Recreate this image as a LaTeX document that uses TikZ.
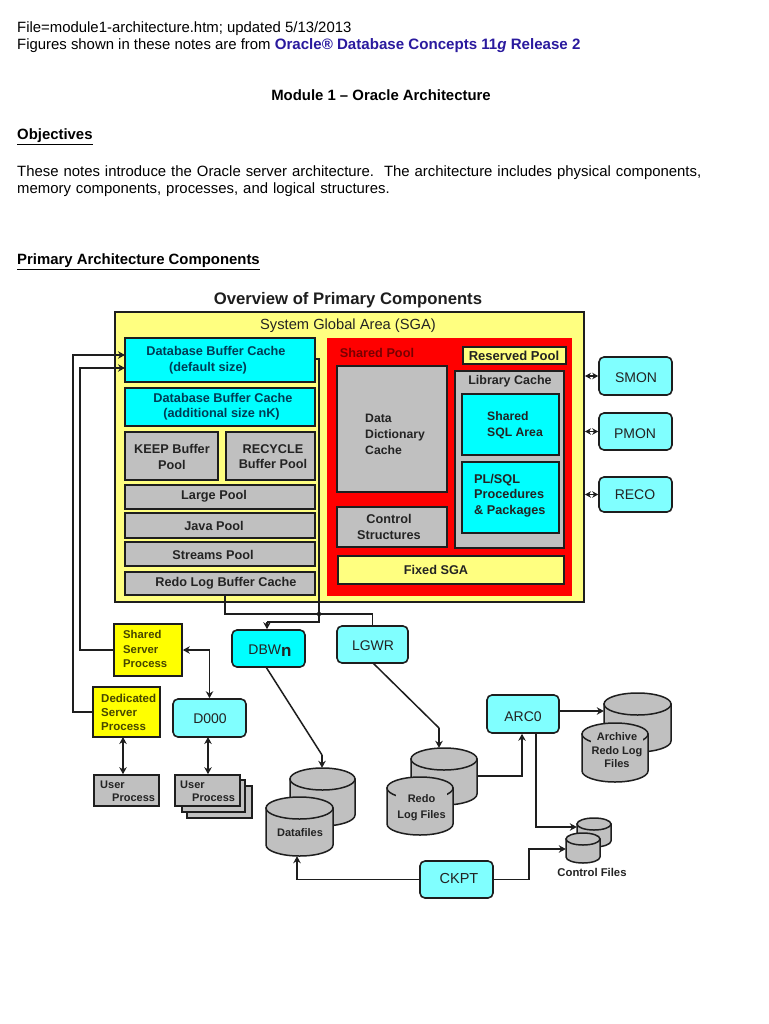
\documentclass[tikz,border=0pt]{standalone}
\usepackage{fontspec}
\setmainfont{Liberation Sans}
\usetikzlibrary{arrows.meta,calc}
\definecolor{lyel}{RGB}{255,255,128}
\definecolor{byel}{RGB}{255,255,0}
\definecolor{bcy}{RGB}{0,255,255}
\definecolor{lcy}{RGB}{128,255,255}
\definecolor{cgr}{RGB}{192,192,192}
\definecolor{edge}{RGB}{30,30,30}
\definecolor{blu}{RGB}{42,26,158}
\definecolor{tealtx}{RGB}{0,60,85}
\definecolor{oliv}{RGB}{70,70,0}
\definecolor{dred}{RGB}{120,0,0}
\definecolor{txt}{RGB}{35,35,35}
\newcommand\bx[6][]{%
  \pgfmathsetmacro\bxw{#5-#3}\pgfmathsetmacro\bxh{#6-#4}%
  \pgfmathsetmacro\bxx{(#3+#5)/2}\pgfmathsetmacro\bxy{(#4+#6)/2}%
  \node[boxs,minimum width=\bxw pt,minimum height=\bxh pt,#1] (#2) at (\bxx,\bxy) {};}
\newcommand\cyl[6]{%
  \pgfmathsetmacro\cw{#4-#2}\pgfmathsetmacro\ch{#5-#3}%
  \pgfmathsetmacro\cx{(#2+#4)/2}\pgfmathsetmacro\cy{(#3+#5)/2}%
  \pgfmathsetmacro\rx{\cw/2}\pgfmathsetmacro\yt{#3+#6}\pgfmathsetmacro\yb{#5-#6}%
  \pgfmathsetmacro\ka{\yb+0.55*#6}\pgfmathsetmacro\kb{\cx-0.55*\rx}\pgfmathsetmacro\kc{\cx+0.55*\rx}%
  \draw[cyls] (#2,\yt) -- (#2,\yb) .. controls (#2,\ka) and (\kb,#5) .. (\cx,#5)
     .. controls (\kc,#5) and (#4,\ka) .. (#4,\yb) -- (#4,\yt) -- cycle;
  \draw[cyls] (\cx,\yt) ellipse [x radius=\rx pt,y radius=#6 pt];
  \node[inner sep=0,minimum width=\cw pt,minimum height=\ch pt] (#1) at (\cx,\cy) {};}
\newcommand\dbwn{DBW\raisebox{-2pt}{\fontsize{17}{17}\selectfont\bfseries n}}
\begin{document}
\begin{tikzpicture}[x=1pt,y=-1pt,
  boxs/.style={draw=edge,line width=1.6pt,fill=cgr,inner sep=0pt},
  rbox/.style={boxs,rounded corners=5pt},
  cyls/.style={draw=edge,line width=1.5pt,fill=cgr},
  lbl/.style={inner sep=0pt,align=center,text=txt,font=\fontsize{12.7}{15.5}\selectfont\bfseries},
  lleft/.style={lbl,align=left,anchor=west},
  plain/.style={inner sep=0pt,anchor=west,align=left,text=black,font=\fontsize{14.9}{17}\selectfont},
  head/.style={plain,font=\fontsize{14.9}{17}\selectfont\bfseries},
  proc/.style={inner sep=0pt,text=txt,font=\fontsize{14}{16}\selectfont},
  conn/.style={draw=edge,line width=1.5pt},
  arr/.style={conn,-{Stealth[length=7pt,width=7.5pt]}},
  darr/.style={conn,{Stealth[length=7pt,width=7.5pt]}-{Stealth[length=7pt,width=7.5pt]}},
  sarr/.style={conn,line width=1.2pt,{Stealth[length=6pt,width=6.5pt]}-{Stealth[length=6pt,width=6.5pt]}}]
\useasboundingbox (0,0) rectangle (768,1024);
\fill[white] (0,0) rectangle (768,1024);
% page text
\node[plain] (t1) at (17,28.5) {File=module1-architecture.htm; updated 5/13/2013};
\node[plain] (t2) at (17,46) {Figures shown in these notes are from \textcolor{blu}{\fontsize{15.1}{17}\selectfont\bfseries Oracle® Database Concepts 11\textit{g} Release 2}};
\node[head,anchor=center] (t3) at (381,95) {Module 1 – Oracle Architecture};
\node[head] (t4) at (17,137) {\underline{Objectives}};
\node[plain,text width=740pt] (t5) at (17,181.5) {These notes introduce the Oracle server architecture.\ \ The architecture includes physical components,\\memory components, processes, and logical structures.};
\node[head] (t6) at (17,262) {\underline{Primary Architecture Components}};
% title
\node[inner sep=0pt,text=edge,font=\fontsize{16.7}{18}\selectfont\bfseries] (title) at (348,300.5) {Overview of Primary Components};
% SGA
\bx[fill=lyel,line width=2pt]{sga}{115}{312}{584}{602}
\node[inner sep=0pt,text=txt,font=\fontsize{14.7}{16}\selectfont] (sgat) at (348,326) {System Global Area (SGA)};
\bx[fill=bcy]{dbc}{125}{338}{315}{382}
\bx[fill=bcy]{dbn}{125}{388}{315}{426}
\bx{keep}{125}{432}{218}{480}
\bx{recy}{226}{432}{315}{480}
\bx{large}{125}{485}{315}{509}
\bx{java}{125}{513}{315}{538}
\bx{strm}{125}{542}{315}{566}
\bx{redo}{125}{572}{315}{595}
\node[lbl,text=tealtx] (dbct) at (212,360) {\hspace*{8pt}Database Buffer Cache\\\hspace*{-8pt}(default size)};
\node[lbl,text=tealtx] (dbnt) at (221.5,406.5) {\hspace*{3pt}Database Buffer Cache\\(additional size nK)};
\node[lbl] (keept) at (172,457) {KEEP Buffer\\Pool};
\node[lbl] (recyt) at (273,456.5) {RECYCLE\\Buffer Pool};
\node[lbl] (larget) at (214,496.5) {Large Pool};
\node[lbl] (javat) at (214,525.5) {Java Pool};
\node[lbl] (strmt) at (213,554.5) {Streams Pool};
\node[lbl] (redot) at (226,583.5) {Redo Log Buffer Cache};
% Shared pool
\bx[fill=red,draw=none]{shp}{327}{338}{572}{596}
\node[lbl,text=dred] (shpt) at (377,352.5) {Shared Pool};
\bx[fill=lyel]{resv}{463}{347}{566}{364}
\node[lbl,font=\fontsize{13}{15}\selectfont\bfseries] (resvt) at (514,355.5) {Reserved Pool};
\bx{dict}{337}{366}{447}{492}
\node[lleft,font=\fontsize{12.2}{15.7}\selectfont\bfseries] (dictt) at (365,434.5) {Data\\Dictionary\\Cache};
\bx{ctrl}{337}{507}{447}{547}
\node[lbl] (ctrlt) at (389,527) {Control\\Structures};
\bx{lib}{455}{371}{564}{548}
\node[lbl,font=\fontsize{12.5}{15}\selectfont\bfseries] (libt) at (510,381.5) {Library Cache};
\bx[fill=bcy]{sql}{462}{394}{559}{455}
\node[lleft,font=\fontsize{12.2}{15.7}\selectfont\bfseries] (sqlt) at (487,425.5) {Shared\\SQL Area};
\bx[fill=bcy]{plsql}{462}{462}{559}{533}
\node[lleft] (plsqlt) at (474,495.5) {PL/SQL\\Procedures\\\&{} Packages};
\bx[fill=lyel]{fix}{338}{556}{564}{584}
\node[lbl] (fixt) at (436,569.5) {Fixed SGA};
% background processes
\bx[rbox,fill=lcy]{smon}{599}{357}{672}{395}
\bx[rbox,fill=lcy]{pmon}{599}{413}{672}{450}
\bx[rbox,fill=lcy]{reco}{599}{477}{672}{512}
\node[proc] (smont) at (636,377.5) {SMON};
\node[proc] (pmont) at (635,433.5) {PMON};
\node[proc] (recot) at (635,494.5) {RECO};
\draw[sarr] (smon.west -| sga.east) -- (smon.west);
\draw[sarr] (pmon.west -| sga.east) -- (pmon.west);
\draw[sarr] (reco.west -| sga.east) -- (reco.west);
% server processes
\bx[fill=byel]{shs}{114}{624}{182}{676}
\node[lleft,text=oliv,font=\fontsize{11.3}{14.5}\selectfont\bfseries] (shst) at (123,649) {Shared\\Server\\Process};
\bx[fill=byel]{ded}{93}{687}{160}{737}
\node[lleft,text=oliv,font=\fontsize{11.5}{14.2}\selectfont\bfseries] (dedt) at (101,712.5) {Dedicated\\Server\\Process};
\bx[rbox,fill=lcy]{d0}{173}{699}{246}{737}
\node[proc] (d0t) at (210,718.5) {D000};
\bx[rbox,fill=bcy]{dbw}{232}{630}{305}{667}
\node[proc] (dbwt) at (270,650.5) {\dbwn};
\bx[rbox,fill=lcy]{lgwr}{337}{626}{408}{663}
\node[proc] (lgwrt) at (373,645.5) {LGWR};
\bx[rbox,fill=lcy]{arc}{487}{695}{559}{733}
\node[proc] (arct) at (523,716.5) {ARC0};
\bx[rbox,fill=lcy]{ckpt}{420}{861}{493}{898}
\node[proc,font=\fontsize{14.5}{16}\selectfont] (ckptt) at (459,878.5) {CKPT};
% user processes
\bx{up1}{94}{775}{159}{806}
\node[lleft,font=\fontsize{11}{13}\selectfont\bfseries] (up1t) at (100,791.5) {User\\\hspace*{12pt}Process};
\bx{up4}{187}{786}{252}{818}
\bx{up3}{182}{780}{245}{812}
\bx{up2}{175}{775}{240}{806}
\node[lleft,font=\fontsize{11}{13}\selectfont\bfseries] (up2t) at (180,791.5) {User\\\hspace*{12pt}Process};
% cylinders
\cyl{dfb}{290}{768}{355}{826}{11}
\cyl{dff}{266}{797}{333}{856}{11}
\node[lbl,font=\fontsize{11}{13}\selectfont\bfseries] (dft) at (300,832.5) {Datafiles};
\cyl{rlb}{411}{748}{477}{805}{11}
\cyl{rlf}{387}{777}{453}{835}{11}
\node[lbl,fill=cgr,inner sep=1pt,font=\fontsize{11}{16}\selectfont\bfseries] (rlt) at (421.5,807.5) {Redo\\Log Files};
\cyl{alb}{604}{693}{671}{752}{11}
\cyl{alf}{582}{723}{648}{782}{11}
\node[lbl,fill=cgr,inner sep=1pt,font=\fontsize{11}{13.5}\selectfont\bfseries] (alt) at (617,750.5) {Archive\\Redo Log\\Files};
\cyl{cfb}{577}{818}{611}{847}{6}
\cyl{cff}{566}{833}{600}{863}{6}
\node[lbl,font=\fontsize{11.3}{13}\selectfont\bfseries] (cft) at (592,872.5) {Control Files};
% connectors
\coordinate (ca) at (125,355);
\coordinate (cb) at (125,368);
\coordinate (lo) at (73,355);
\coordinate (li) at (80,368);
\draw[arr] (ded.west) -| (lo) -- (ca);
\draw[arr] (shs.west) -| (li) -- (cb);
\coordinate (rs) at (225,595);
\coordinate (rm) at (225,614);
\draw[conn] (rs) -- (rm) -| (lgwr.north);
\coordinate (ds) at (315,359);
\coordinate (dj) at (319,359);
\coordinate (dl) at (319,622);
\coordinate (dt) at (267,622);
\draw[conn] (ds) -- (dj) -- (dl) -- (dt);
\draw[arr] (dt) -- (dt |- dbw.north);
\fill[edge] (319,614) circle (2.2pt);
\draw[darr] (shs.east) -| (d0.north);
\coordinate (u1) at (123,737);
\draw[darr] (u1) -- (u1 |- up1.north);
\coordinate (u2) at (208,737);
\draw[darr] (u2) -- (u2 |- up2.north);
\coordinate (ds1) at (266,667);
\coordinate (ds2) at (322,755);
\draw[conn] (ds1) -- (ds2);
\draw[arr] (ds2) -- (ds2 |- dfb.north);
\coordinate (ls1) at (373,663);
\coordinate (ls2) at (439,728);
\draw[conn] (ls1) -- (ls2);
\draw[arr] (ls2) -- (ls2 |- rlb.north);
\coordinate (ra) at (477,776);
\coordinate (rb) at (522,776);
\draw[arr] (ra) -- (rb) -- (rb |- arc.south);
\coordinate (aa) at (559,711);
\draw[arr] (aa) -- (aa -| alb.west);
\coordinate (ac) at (536,733);
\coordinate (ad) at (536,827);
\draw[arr] (ac) -- (ad) -- (ad -| cfb.west);
\coordinate (ck) at (529,849);
\draw[arr] (ckpt.east) -| (ck) -- (ck -| cff.west);
\coordinate (df) at (297,878);
\draw[arr] (ckpt.west) -- (ckpt.west -| df) -- (df |- dff.south);
\end{tikzpicture}
\end{document}
